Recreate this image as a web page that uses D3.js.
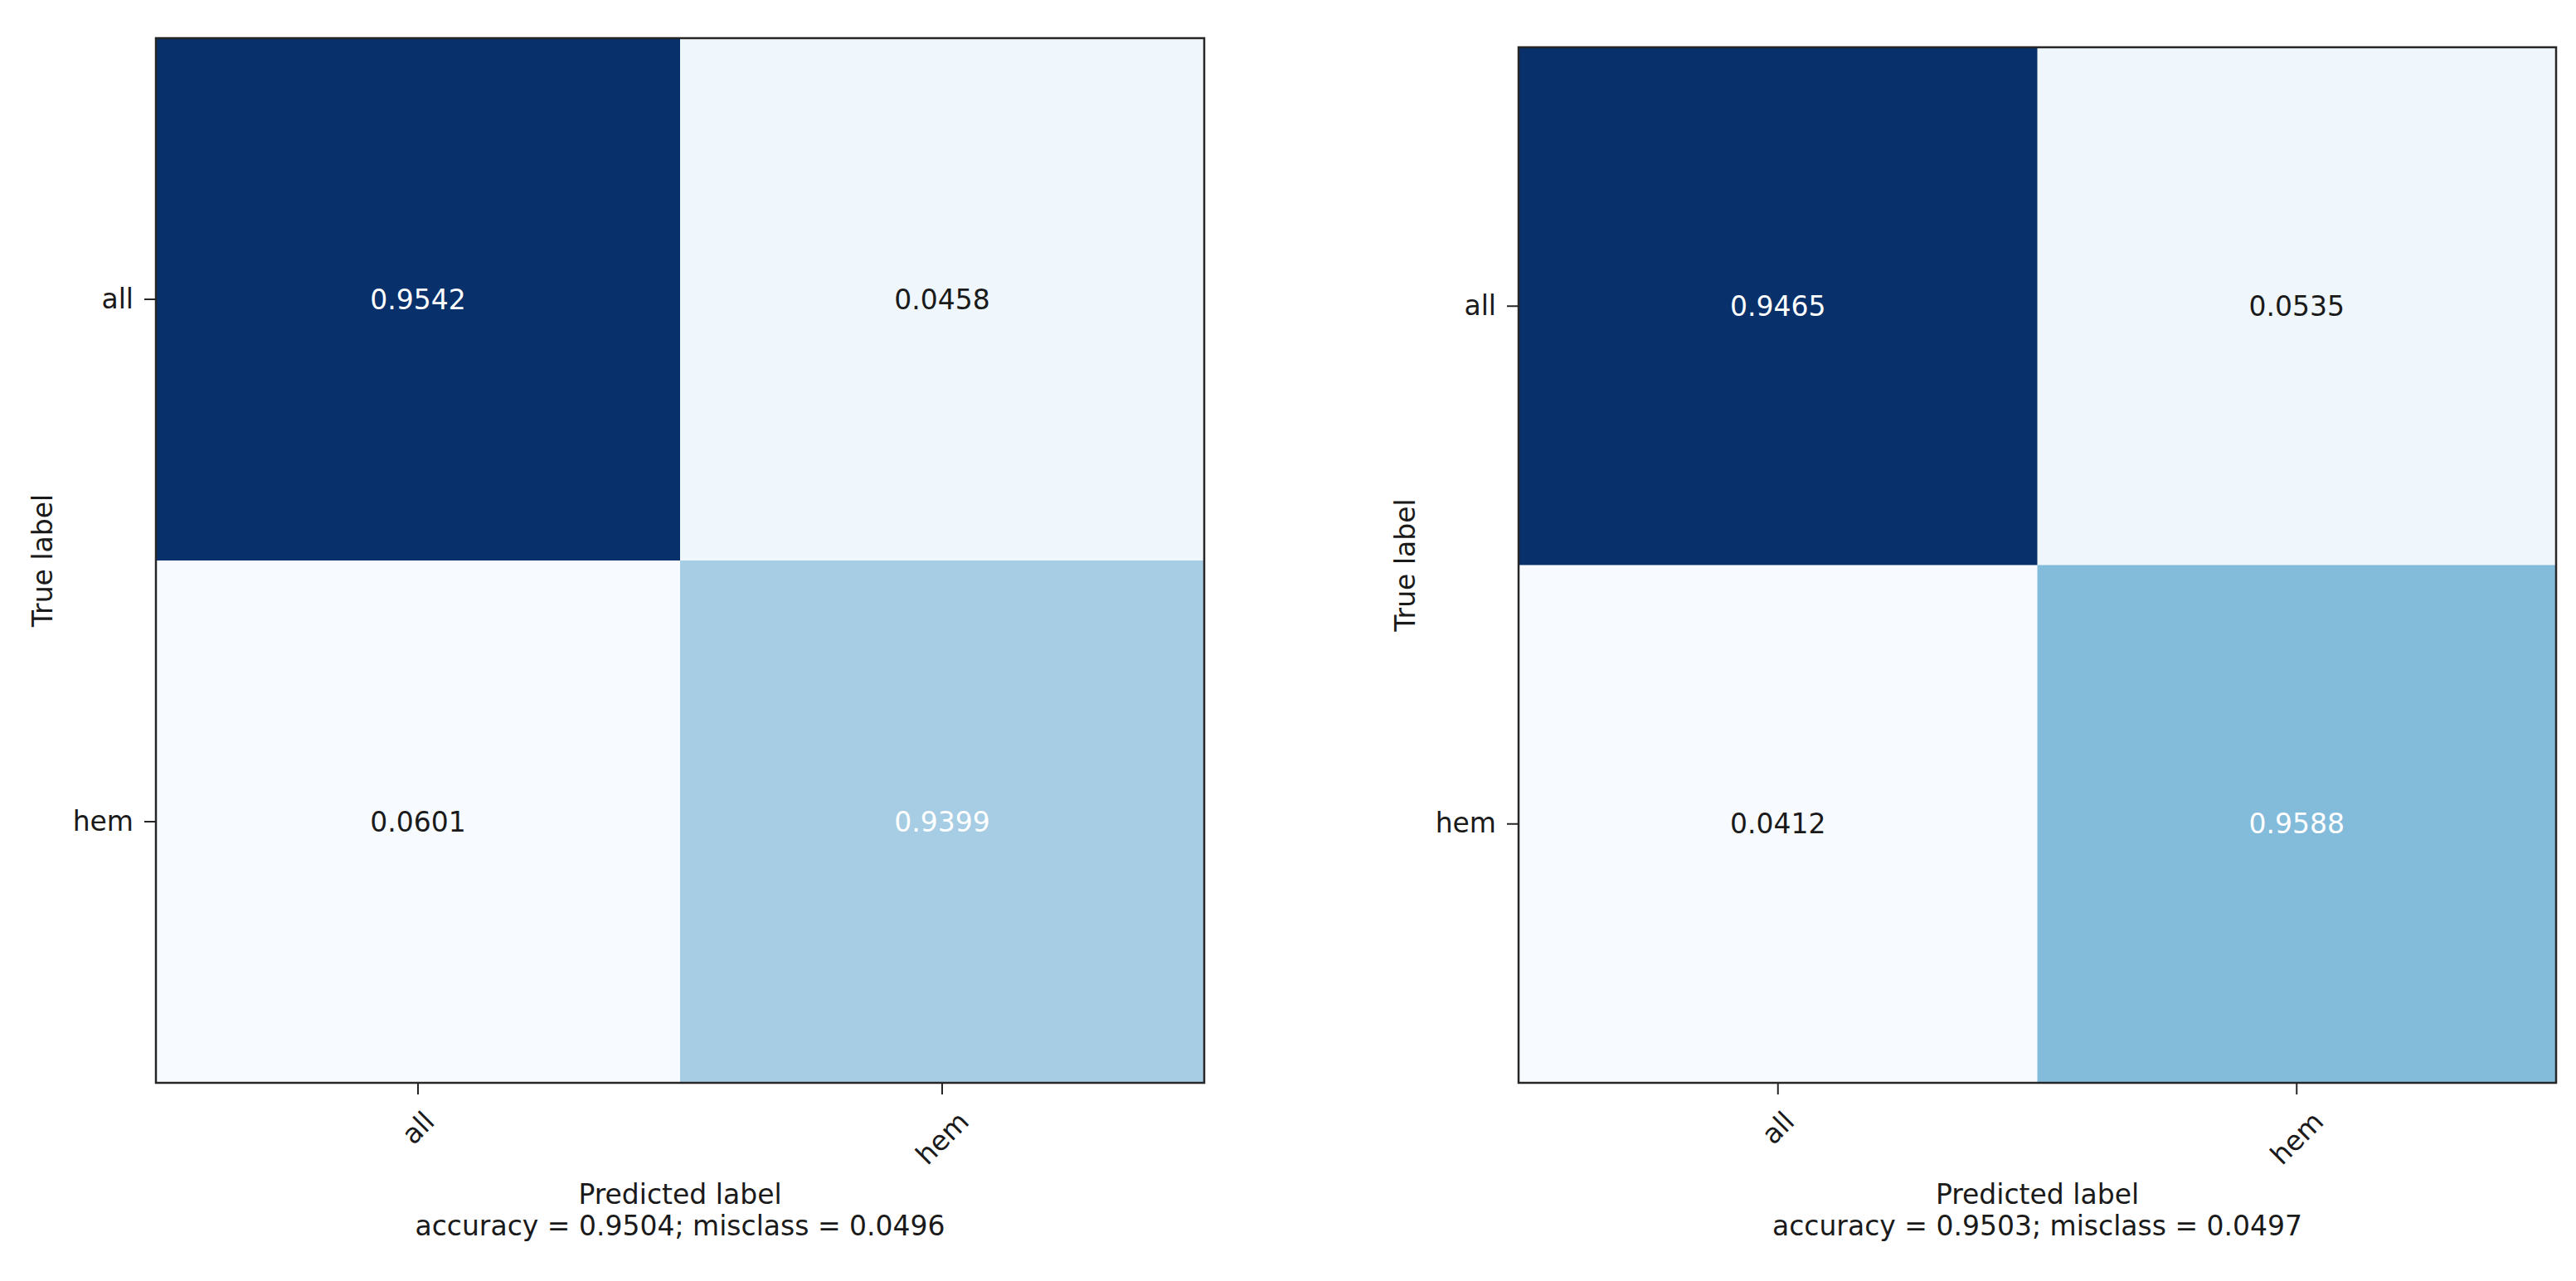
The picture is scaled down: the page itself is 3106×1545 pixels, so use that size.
<!DOCTYPE html>
<html>
<head>
<meta charset="utf-8">
<script src="https://cdn.jsdelivr.net/npm/d3@7"></script>
<style>
  body { margin: 0; background: #fff; }
  text { font-family: "DejaVu Sans", sans-serif; fill: #1a1a1a; }
</style>
</head>
<body>
<svg id="chart" width="3106" height="1545"></svg>
<script>
// class names on both axes
const labels = ["all", "hem"];

// normalized confusion matrices (rows = true label)
const leftValues = [[0.9542, 0.0458], [0.0601, 0.9399]];
const rightValues = [[0.9465, 0.0535], [0.0412, 0.9588]];

// colormap level of each cell (0 = lightest, 1 = darkest)
const leftShade = [[1.0, 0.04], [0.0, 0.35]];
const rightShade = [[1.0, 0.04], [0.0, 0.44]];

const leftScores = [0.9504, 0.0496];   // accuracy, misclass
const rightScores = [0.9503, 0.0497];

// matplotlib "Blues" stops
const bluesStops = ["#f7fbff", "#deebf7", "#c6dbef", "#9ecae1", "#6baed6",
                    "#4292c6", "#2171b5", "#08519c", "#08306b"];

const blues = d3.scaleLinear()
    .domain(d3.range(bluesStops.length).map(i => i / (bluesStops.length - 1)))
    .range(bluesStops)
    .interpolate(d3.interpolateRgb);

const svg = d3.select("#chart");
const fontSize = 33;

function drawMatrix(box, values, shade, scores) {
    const g = svg.append("g").attr("transform", `translate(${box.x},${box.y})`);

    const x = d3.scaleBand().domain(labels).range([0, box.w]);
    const y = d3.scaleBand().domain(labels).range([0, box.h]);

    const cells = [];
    labels.forEach((row, i) => labels.forEach((col, j) => {
        cells.push({ row, col, v: values[i][j], s: shade[i][j] });
    }));
    const vmax = d3.max(cells, d => d.v);

    g.selectAll("rect.cell")
        .data(cells)
        .enter().append("rect")
        .attr("class", "cell")
        .attr("x", d => x(d.col))
        .attr("y", d => y(d.row))
        .attr("width", x.bandwidth() + 0.5)
        .attr("height", y.bandwidth() + 0.5)
        .style("fill", d => blues(d.s));

    g.selectAll("text.val")
        .data(cells)
        .enter().append("text")
        .attr("class", "val")
        .attr("x", d => x(d.col) + x.bandwidth() / 2)
        .attr("y", d => y(d.row) + y.bandwidth() / 2)
        .attr("dy", "0.35em")
        .attr("text-anchor", "middle")
        .style("font-size", fontSize + "px")
        .style("fill", d => d.v > vmax / 1.5 ? "#ffffff" : "#1a1a1a")
        .text(d => d.v.toFixed(4));

    // frame
    g.append("rect")
        .attr("width", box.w)
        .attr("height", box.h)
        .style("fill", "none")
        .style("stroke", "#262626")
        .style("stroke-width", 2.5);

    // y axis
    const yAxis = g.append("g")
        .call(d3.axisLeft(y).tickSize(14).tickPadding(13).tickSizeOuter(0));
    yAxis.select(".domain").remove();
    yAxis.selectAll("line").style("stroke", "#262626").style("stroke-width", 2);
    yAxis.selectAll("text")
        .style("font-size", fontSize + "px")
        .style("font-family", "DejaVu Sans")
        .style("fill", "#1a1a1a");

    // x axis, labels rotated 45 degrees, centred under the tick
    const xAxis = g.append("g")
        .attr("transform", `translate(0,${box.h})`)
        .call(d3.axisBottom(x).tickSize(14).tickSizeOuter(0));
    xAxis.select(".domain").remove();
    xAxis.selectAll("line").style("stroke", "#262626").style("stroke-width", 2);
    xAxis.selectAll("text")
        .style("font-size", fontSize + "px")
        .style("font-family", "DejaVu Sans")
        .style("fill", "#1a1a1a")
        .attr("x", 0)
        .attr("y", 0)
        .attr("dy", "0.35em")
        .attr("text-anchor", "middle")
        .attr("transform", function () {
            const len = this.getComputedTextLength();
            const side = (len + fontSize * 0.9) / Math.SQRT2;
            return `translate(0,${30 + side / 2}) rotate(-45)`;
        });

    // axis titles
    g.append("text")
        .attr("x", box.w / 2)
        .attr("y", box.h + 146)
        .attr("text-anchor", "middle")
        .style("font-size", fontSize + "px")
        .text("Predicted label");

    g.append("text")
        .attr("x", box.w / 2)
        .attr("y", box.h + 184)
        .attr("text-anchor", "middle")
        .style("font-size", fontSize + "px")
        .text(`accuracy = ${scores[0].toFixed(4)}; misclass = ${scores[1].toFixed(4)}`);

    g.append("text")
        .attr("transform", `translate(-125,${box.h / 2}) rotate(-90)`)
        .attr("text-anchor", "middle")
        .style("font-size", fontSize + "px")
        .text("True label");
}

drawMatrix({ x: 188, y: 46, w: 1264, h: 1260 }, leftValues, leftShade, leftScores);
drawMatrix({ x: 1831, y: 57, w: 1251, h: 1249 }, rightValues, rightShade, rightScores);
</script>
</body>
</html>
